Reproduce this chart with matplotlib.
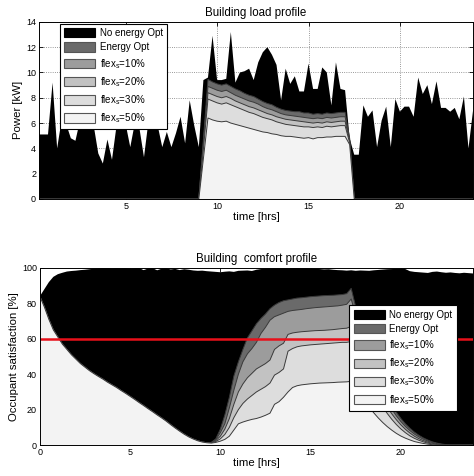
import numpy as np
import matplotlib
matplotlib.use("Agg")
from matplotlib import pyplot as plt

plt.rcParams['font.family'] = ['Liberation Sans', 'DejaVu Sans']
plt.rcParams['mathtext.fontset'] = 'custom'
plt.rcParams['mathtext.rm'] = 'Liberation Sans'
plt.rcParams['mathtext.it'] = 'Liberation Sans'

labels = ['No energy Opt', 'Energy Opt', r'flex$_\mathrm{s}$=10%', r'flex$_\mathrm{s}$=20%',
          r'flex$_\mathrm{s}$=30%', r'flex$_\mathrm{s}$=50%']
colors = ['#000000', '#6a6a6a', '#9c9c9c', '#c2c2c2', '#dddddd', '#f3f3f3']

# ---- load profile, 15 min steps from 0.25 to 24 h
t_load = np.arange(1, 97) * 0.25
load_noopt = [5.1, 5.1, 5.1, 9.2, 4.0, 6.3, 5.9, 4.8, 4.6, 6.2, 6.8, 6.5,
              5.8, 3.6, 2.8, 4.7, 3.1, 5.8, 6.4, 5.9, 4.1, 6.0, 5.6, 3.3,
              6.2, 6.8, 5.8, 4.1, 5.3, 4.1, 5.2, 6.5, 4.4, 7.8, 5.8, 4.1,
              9.4, 9.6, 12.9, 9.4, 9.4, 9.5, 13.2, 9.2, 10.0, 10.1, 10.3, 9.4,
              10.8, 11.6, 12.0, 11.4, 10.6, 7.8, 10.3, 9.1, 9.7, 8.5, 8.5, 10.7,
              8.7, 8.7, 10.4, 10.0, 7.4, 10.8, 8.7, 8.6, 4.8, 3.5, 3.5, 7.4,
              6.5, 7.0, 4.1, 6.2, 7.3, 4.1, 7.9, 6.9, 7.3, 7.3, 6.5, 9.6,
              8.3, 9.0, 7.5, 9.3, 7.2, 7.2, 6.9, 7.2, 6.3, 8.1, 4.0, 7.0]
# optimised loads, 9.25 .. 17.25 h (zero outside)
load_eo = [4.7, 9.45, 9.25, 9.1, 9.0, 9.1, 8.9, 8.7, 8.55, 8.35, 8.2, 8.1, 7.9, 7.7,
           7.55, 7.45, 7.25, 7.1, 7.0, 6.95, 6.9, 6.9, 6.8, 6.8, 6.7, 6.75, 6.7,
           6.8, 6.75, 6.8, 6.85, 6.85, 4.8]
load_f10 = [4.45, 8.9, 8.75, 8.6, 8.5, 8.6, 8.4, 8.2, 8.05, 7.9, 7.75, 7.65, 7.5, 7.3,
            7.15, 7.05, 6.9, 6.75, 6.65, 6.6, 6.55, 6.5, 6.45, 6.4, 6.35, 6.4, 6.35,
            6.45, 6.4, 6.45, 6.5, 6.5, 4.65]
load_f20 = [4.2, 8.4, 8.25, 8.1, 8.0, 8.1, 7.95, 7.75, 7.6, 7.45, 7.3, 7.2, 7.05, 6.9,
            6.75, 6.65, 6.5, 6.4, 6.3, 6.25, 6.2, 6.15, 6.1, 6.05, 6.0, 6.05, 6.0,
            6.1, 6.05, 6.1, 6.15, 6.15, 4.55]
load_f30 = [3.95, 7.9, 7.75, 7.6, 7.5, 7.6, 7.45, 7.3, 7.15, 7.0, 6.85, 6.75, 6.6, 6.45,
            6.35, 6.25, 6.1, 6.0, 5.9, 5.85, 5.8, 5.75, 5.7, 5.7, 5.65, 5.7, 5.65,
            5.75, 5.7, 5.75, 5.8, 5.8, 4.45]
load_f50 = [3.2, 6.4, 6.25, 6.15, 6.1, 6.15, 6.0, 5.9, 5.8, 5.7, 5.6, 5.5, 5.4, 5.3,
            5.25, 5.15, 5.1, 5.0, 4.95, 4.95, 4.9, 4.85, 4.8, 4.85, 4.75, 4.85, 4.85,
            4.9, 4.9, 4.95, 4.95, 4.95, 4.3]

# ---- comfort profile, 15 min steps from 0 to 24 h
t_comf = np.arange(0, 97) * 0.25
comf_noopt = [84, 88, 92, 95, 96.5, 97.3, 98, 98.3, 98.5, 98.8, 99, 99.3, 99.6,
              99.8, 100, 100, 99.7, 100, 99.8, 100, 99.6, 99.9, 100, 98.8, 99.7,
              99.9, 98.7, 99.6, 99.8, 99.2, 99.5, 98.8, 99.3, 99, 98.6, 98.4, 98.5,
              98.2, 98, 97.8, 97.6, 97.9, 98.1, 97.8, 98.4, 98.5, 98.6, 98.3, 99,
              99.4, 99.6, 99.7, 99.8, 99.9, 100, 99.8, 99.9, 100, 99.7, 99.8, 99.6,
              99.5, 99.4, 99.2, 99.3, 99, 98.8, 98.7, 98.5, 98.7, 98.4, 98.6, 98.5,
              98.4, 98.7, 98.9, 99.1, 99.3, 99.4, 99.5, 99.6, 99.4, 98.2, 97.8,
              97.6, 97.4, 97.2, 97.8, 98, 97.6, 97.3, 97.5, 97.2, 97.0, 97.3, 97.1,
              96.9]
# shared night part 0 .. 9.25 h
comf_night = [84, 78, 71, 65, 61, 57, 54, 51, 48.5, 46, 44, 42, 40.3, 38.7, 37.2,
              35.5, 34, 32.5, 30.8, 29.2, 27.5, 25.8, 24, 22.3, 20.5, 18.8, 17, 15.3,
              13.5, 11.5, 9.6, 7.8, 6.1, 4.6, 3.4, 2.4, 1.7, 1.3]
# 9.5 .. 24 h
comf_eo = [1.5, 3.5, 9, 17, 27, 39, 47, 54, 60.5, 64.5, 68.5, 71.5, 74, 77, 79, 80.5,
           81.5, 82, 82.5, 83, 83.2, 83.5, 83.8, 84, 84.2, 84.4, 84.5, 84.6, 84.8, 85,
           85.5, 88.5, 78, 68, 59, 51, 44, 37.5, 32, 27, 22.5, 18.5, 15, 12, 9.5, 7.3,
           5.5, 4.0, 2.8, 1.8, 1.1, 0.6, 0.25, 0, 0, 0, 0, 0, 0]
comf_f10 = [1.4, 3, 7, 12, 21, 31, 40, 47, 51.5, 54.5, 58, 63, 66.5, 70.5, 72.5, 73.5,
            74.5, 75.5, 76, 76.3, 76.6, 77, 77.3, 77.6, 77.8, 78, 78.2, 78.4, 78.6, 79,
            79.5, 82.5, 73, 63.5, 55, 47.5, 41, 35, 29.5, 24.5, 20.3, 16.5, 13.3, 10.5,
            8.2, 6.2, 4.6, 3.3, 2.2, 1.4, 0.8, 0.4, 0.1, 0, 0, 0, 0, 0, 0]
comf_f20 = [1.3, 2.5, 5, 9, 15, 23, 30, 34.5, 38, 40.5, 43, 44.5, 46, 48, 54, 56, 57.5,
            62.5, 63.3, 63.7, 64, 64.2, 64.4, 64.6, 64.7, 64.8, 65, 65.2, 65.5, 65.8,
            66, 67, 60, 53, 46.5, 40.5, 35, 30, 25.5, 21.3, 17.6, 14.3, 11.4, 8.9, 6.8,
            5.0, 3.6, 2.5, 1.6, 1.0, 0.5, 0.2, 0, 0, 0, 0, 0, 0, 0]
comf_f30 = [1.2, 2, 3.5, 6, 10, 15.5, 20, 23.5, 26, 28, 30, 31.5, 33, 35, 39.5, 41, 43,
            53, 54.5, 55.5, 56, 56.3, 56.6, 56.8, 57, 57.2, 57.4, 57.6, 57.8, 58, 58,
            58.5, 52.5, 46.5, 40.5, 35, 30, 25.5, 21.5, 17.8, 14.5, 11.6, 9.1, 7.0, 5.2,
            3.8, 2.7, 1.8, 1.1, 0.6, 0.3, 0.1, 0, 0, 0, 0, 0, 0, 0]
comf_f50 = [1.1, 1.5, 2.2, 3.2, 5, 8.5, 12, 13, 13.8, 14.5, 15, 15.8, 16.8, 18, 23, 24.5,
            27, 30, 32.5, 33.5, 34, 34.3, 34.6, 34.8, 35, 35.1, 35.2, 35.3, 35.5, 35.6,
            35.7, 36, 32.5, 28.5, 24.8, 21.3, 18.2, 15.3, 12.7, 10.4, 8.4, 6.6, 5.1,
            3.9, 2.9, 2.0, 1.4, 0.9, 0.5, 0.2, 0.1, 0, 0, 0, 0, 0, 0, 0, 0]
comfort_limit = 60

z_before = np.zeros(36)
z_after = np.zeros(27)
load_series = [np.array(load_noopt)] + [np.concatenate([z_before, s, z_after])
                                        for s in (load_eo, load_f10, load_f20, load_f30, load_f50)]
comf_series = [np.array(comf_noopt)] + [np.concatenate([comf_night, s])
                                        for s in (comf_eo, comf_f10, comf_f20, comf_f30, comf_f50)]

sizes = [len(s) for s in load_series] + [len(s) for s in comf_series]
if sizes != [96] * 6 + [97] * 6:
    raise ValueError(f"series lengths {sizes}")

fig = plt.figure(figsize=(4.74, 4.76), dpi=100)
ax1 = fig.add_axes([0.082, 0.582, 0.916, 0.372])
ax2 = fig.add_axes([0.084, 0.065, 0.914, 0.372])


def draw(ax, t, series):
    for i, (y, c) in enumerate(zip(series, colors)):
        ax.fill_between(t, 0, y, facecolor=c, edgecolor='none', zorder=2 + i)
        if i > 0:
            ax.plot(t, y, color='#3a3a3a', lw=0.7, zorder=2 + i)


def style(ax):
    ax.tick_params(direction='in', top=True, right=True, labelsize=6.5,
                   length=3, width=0.6, pad=2)
    for s in ax.spines.values():
        s.set_linewidth(0.7)
        s.set_zorder(20)
    ax.set_xlabel('time [hrs]', fontsize=8.2, labelpad=1)


def legend(ax, anchor):
    from matplotlib.patches import Patch
    ph = [Patch(facecolor=c, edgecolor='#555555' if i else 'black', lw=0.8)
          for i, c in enumerate(colors)]
    leg = ax.legend(ph, labels, loc='upper left', bbox_to_anchor=anchor,
                    fontsize=7, frameon=True, fancybox=False, framealpha=1,
                    edgecolor='black', handlelength=3.2, handleheight=1.1,
                    labelspacing=0.45, borderpad=0.45, handletextpad=0.45,
                    borderaxespad=0)
    leg.get_frame().set_linewidth(0.8)
    leg.set_zorder(30)


draw(ax1, t_load, load_series)
ax1.set_xlim(0.25, 24)
ax1.set_ylim(0, 14)
ax1.set_xticks([5, 10, 15, 20])
ax1.set_yticks(range(0, 15, 2))
ax1.grid(True, linestyle=':', color='#777777', lw=0.6, zorder=1)
ax1.set_axisbelow(True)
style(ax1)
ax1.set_ylabel('Power [kW]', fontsize=8.2, labelpad=2)
ax1.set_title('Building load profile', fontsize=8.3, pad=4)
legend(ax1, (0.048, 0.99))

draw(ax2, t_comf, comf_series)
ax2.axhline(comfort_limit, color='#e8101a', lw=1.8, zorder=15)
ax2.set_xlim(0, 24)
ax2.set_ylim(0, 100)
ax2.set_xticks([0, 5, 10, 15, 20])
ax2.set_yticks(range(0, 101, 20))
style(ax2)
ax2.set_ylabel('Occupant satisfaction [%]', fontsize=8.2, labelpad=2)
ax2.set_title('Building  comfort profile', fontsize=8.3, pad=4)
legend(ax2, (0.714, 0.79))

fig.savefig('out.png', dpi=100)
